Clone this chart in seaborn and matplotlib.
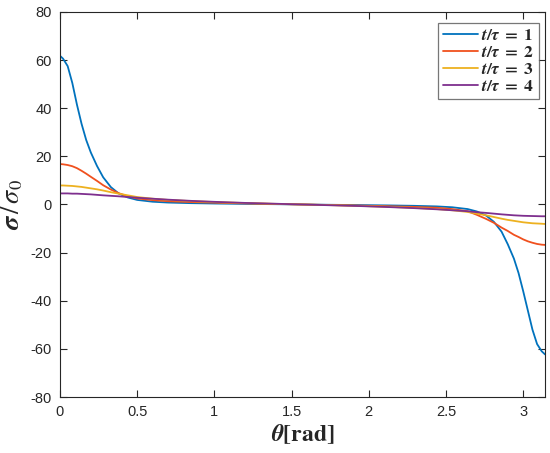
import numpy as np
import pandas as pd
import seaborn as sns
import matplotlib.pyplot as plt

# theta grid [rad]
theta = [0, 0.02, 0.05, 0.08, 0.11, 0.14, 0.17, 0.2, 0.24, 0.28, 0.33, 0.38, 0.44, 0.5,
         0.6, 0.7, 0.85, 1.0, 1.2, 1.4, 1.5708,
         1.74, 1.94, 2.14, 2.29, 2.44, 2.54, 2.64, 2.70, 2.76, 2.81, 2.86, 2.90, 2.94,
         2.97, 3.00, 3.03, 3.06, 3.09, 3.12, 3.1416]

sigma_t1 = [61.8, 60.6, 57.5, 50.5, 41.5, 33.5, 26.8, 21.6, 16.0, 11.3, 7.2, 4.6, 2.9, 1.9,
            1.15, 0.8, 0.55, 0.4, 0.25, 0.12, 0.0,
            -0.12, -0.25, -0.4, -0.55, -0.8, -1.15, -1.9, -2.9, -4.6, -7.2, -11.3, -16.5,
            -22.5, -28.5, -36.0, -44.0, -52.0, -58.0, -61.0, -62.3]
sigma_t2 = [16.8, 16.7, 16.4, 15.9, 15.1, 14.0, 12.8, 11.5, 9.8, 8.0, 6.2, 4.7, 3.4, 2.5,
            1.8, 1.35, 1.0, 0.75, 0.45, 0.2, 0.0,
            -0.2, -0.45, -0.75, -1.0, -1.35, -1.9, -2.8, -4.3, -6.0, -7.6, -9.6, -11.0,
            -12.6, -13.5, -14.5, -15.3, -15.9, -16.4, -16.7, -16.8]
sigma_t3 = [7.9, 7.9, 7.8, 7.7, 7.5, 7.3, 7.0, 6.7, 6.3, 5.8, 5.1, 4.5, 3.8, 3.1,
            2.4, 1.9, 1.4, 1.0, 0.6, 0.25, 0.0,
            -0.25, -0.6, -1.0, -1.4, -1.9, -2.4, -3.1, -3.8, -4.5, -5.2, -5.9, -6.4,
            -6.8, -7.1, -7.4, -7.6, -7.8, -7.9, -8.0, -8.1]
sigma_t4 = [4.6, 4.6, 4.6, 4.5, 4.5, 4.4, 4.3, 4.2, 4.0, 3.8, 3.6, 3.4, 3.1, 2.8,
            2.4, 2.0, 1.5, 1.1, 0.65, 0.3, 0.0,
            -0.3, -0.65, -1.1, -1.5, -2.0, -2.4, -2.8, -3.2, -3.5, -3.8, -4.1, -4.3,
            -4.5, -4.6, -4.7, -4.75, -4.8, -4.85, -4.9, -4.9]

labels = [r'$\boldsymbol{t/\tau}\;\mathbf{=}\;\mathbf{1}$',
          r'$\boldsymbol{t/\tau}\;\mathbf{=}\;\mathbf{2}$',
          r'$\boldsymbol{t/\tau}\;\mathbf{=}\;\mathbf{3}$',
          r'$\boldsymbol{t/\tau}\;\mathbf{=}\;\mathbf{4}$']
colors = ['#0072BD', '#F0501E', '#EDB120', '#7E2F8E']

x_ticks = [0, 0.5, 1, 1.5, 2, 2.5, 3]
y_ticks = [-80, -60, -40, -20, 0, 20, 40, 60, 80]

sns.set_style('white')
plt.rcParams['font.family'] = ['Liberation Sans', 'DejaVu Sans']
plt.rcParams['mathtext.fontset'] = 'stix'
plt.rcParams['axes.unicode_minus'] = False

df = pd.concat([
    pd.DataFrame({'theta': theta, 'sigma': s, 'case': lab})
    for s, lab in zip([sigma_t1, sigma_t2, sigma_t3, sigma_t4], labels)
])

fig = plt.figure(figsize=(5.5, 4.53), dpi=100)
ax = fig.add_axes([0.109, 0.1236, 0.882, 0.85])
sns.lineplot(data=df, x='theta', y='sigma', hue='case', palette=colors,
             linewidth=1.3, ax=ax, sort=False)

ax.set_xlim(0, np.pi)
ax.set_ylim(-80, 80)
ax.set_xticks(x_ticks)
ax.set_xticklabels(['0', '0.5', '1', '1.5', '2', '2.5', '3'])
ax.set_yticks(y_ticks)
ax.tick_params(direction='in', length=5, width=0.8, color='#262626',
               labelsize=10.5, labelcolor='#262626', top=True, right=True,
               bottom=True, left=True, pad=6)
for sp in ax.spines.values():
    sp.set_color('#262626')
    sp.set_linewidth(0.8)

ax.set_xlabel(r'$\boldsymbol{\theta}\mathbf{[rad]}$', fontsize=17, labelpad=2)
ax.set_ylabel(r'$\boldsymbol{\sigma}\,/\,\boldsymbol{\sigma_0}$', fontsize=19, labelpad=4)

leg = ax.legend(loc='upper right', bbox_to_anchor=(0.9876, 0.971), borderaxespad=0,
                fontsize=12.5, frameon=True, fancybox=False, edgecolor='#555555',
                handlelength=2.0, handletextpad=0.2, labelspacing=0.1, borderpad=0.3)
leg.get_frame().set_linewidth(0.9)

fig.savefig('out.png', dpi=100)
